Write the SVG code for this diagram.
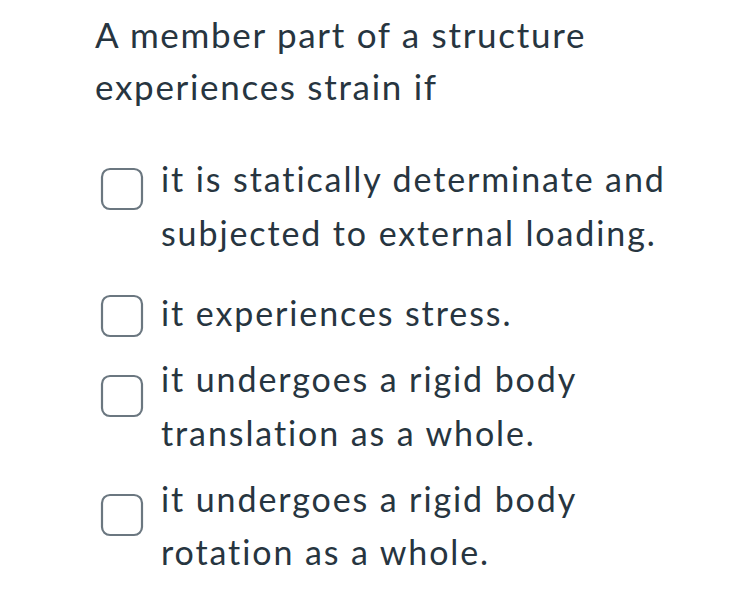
<svg xmlns="http://www.w3.org/2000/svg" width="750" height="616" viewBox="0 0 750 616">
<style>
text{font-family:Lato,"Liberation Sans",sans-serif;fill:#273540;font-size:35px;letter-spacing:1.7px}
.o{font-size:34px;letter-spacing:1.9px}
.cb{fill:#fff;stroke:#6b7780;stroke-width:2.2}
</style>
<rect width="750" height="616" fill="#fff"/>
<text x="95" y="48">A member part of a structure</text>
<text x="95" y="100">experiences strain if</text>
<g id="opt1"><rect class="cb" x="102" y="169" width="40" height="40" rx="8"/>
<text class="o" x="161" y="192">it is statically determinate and</text>
<text class="o" x="161" y="246">subjected to external loading.</text></g>
<g id="opt2"><rect class="cb" x="102" y="296" width="40" height="40" rx="8"/>
<text class="o" x="161" y="326">it experiences stress.</text></g>
<g id="opt3"><rect class="cb" x="102" y="376" width="40" height="40" rx="8"/>
<text class="o" x="161" y="392">it undergoes a rigid body</text>
<text class="o" x="161" y="446">translation as a whole.</text></g>
<g id="opt4"><rect class="cb" x="102" y="495" width="40" height="40" rx="8"/>
<text class="o" x="161" y="512">it undergoes a rigid body</text>
<text class="o" x="161" y="565">rotation as a whole.</text></g>
</svg>
